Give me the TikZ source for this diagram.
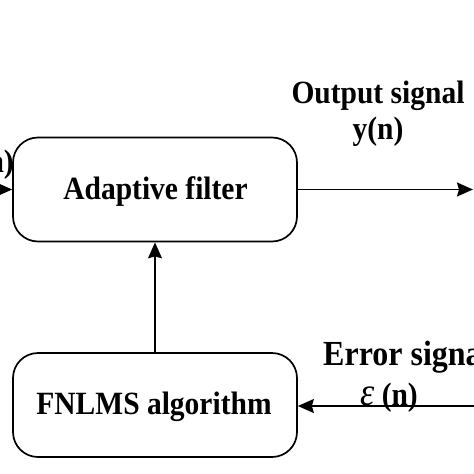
\documentclass[tikz,border=0pt]{standalone}
\usepackage{graphicx}
\usepackage{fontspec}
\setmainfont{Liberation Serif}
\usetikzlibrary{arrows.meta}

\tikzset{
		block/.style={
			draw, rounded corners=25pt, line width=1.7pt, minimum width=284pt,
			minimum height=104pt, inner sep=0pt, fill=white},
		edge/.style={draw, line width=1.7pt, -{Stealth[length=16pt,width=14pt,inset=2pt]}},
		lbl/.style={inner sep=0pt, anchor=base, font=\fontsize{29.5}{34}\selectfont\bfseries},
	}
\newcommand{\tall}[1]{\scalebox{1}[1.1]{#1}}

\begin{document}
\begin{tikzpicture}[x=1pt, y=-1pt]
			\clip (0,0) rectangle (474,474);
			\node[block] (filt) at (155,189.5) {};
			\node[block] (fnlms) at (155,405) {};
			\node[lbl] (tfilt) at (155.5,199) {\tall{Adaptive filter}};
			\node[lbl] (tfnlms) at (154,414) {\tall{FNLMS algorithm}};
			\node[lbl] (out1) at (378,103) {\tall{Output signal}};
			\node[lbl] (out2) at (378,139) {\tall{y(n)}};
			\node[lbl, anchor=base west, font=\fontsize{32}{36}\selectfont\bfseries] (err1) at (323,365) {\tall{Error signal}};
			\node[lbl] (err2) at (389,405) {\tall{{\fontsize{36}{40}\selectfont\mdseries\itshape ε} (n)}};
			\node[lbl, anchor=base east] (xin) at (14,172) {\tall{x(n)}};
			\coordinate (cin) at (0,189.5);
			\coordinate (cout) at (473,189.5);
			\coordinate (cerr) at (474,406);
			\draw[edge] (cin) -- (filt.west);
			\draw[edge] (filt.east) -- (cout);
			\draw[edge] (cerr) -- (fnlms.east |- cerr);
			\draw[edge] (fnlms.north) -- (filt.south);
			\end{tikzpicture}
\end{document}
